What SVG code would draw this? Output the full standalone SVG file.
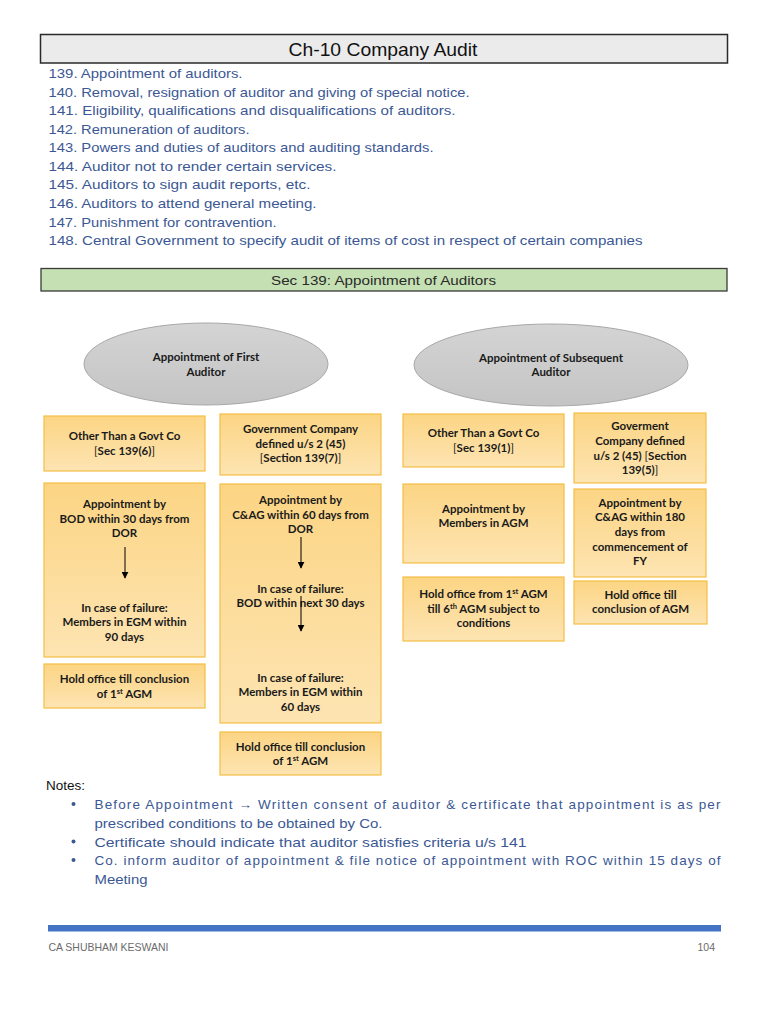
<svg xmlns="http://www.w3.org/2000/svg" width="768" height="1024" viewBox="0 0 768 1024">
<defs>
<linearGradient id="gold" x1="0" y1="0" x2="0" y2="1">
<stop offset="0" stop-color="#fcd584"/>
<stop offset="1" stop-color="#fde4b2"/>
</linearGradient>
<linearGradient id="grey" x1="0" y1="0" x2="0" y2="1">
<stop offset="0" stop-color="#d4d4d4"/>
<stop offset="1" stop-color="#c4c4c4"/>
</linearGradient>
<marker id="arr" viewBox="0 0 10 10" refX="9" refY="5" markerWidth="7" markerHeight="7" orient="auto" markerUnits="userSpaceOnUse">
<path d="M0,0 L10,5 L0,10 z" fill="#000"/>
</marker>
</defs>
<style>
.list{font-family:"Liberation Sans",Arial,sans-serif;font-size:13px;fill:#3b5894}
.box{fill:url(#gold);stroke:#f4bf45;stroke-width:1.2}
.bt{font-family:Lato,"Liberation Sans",sans-serif;font-weight:bold;font-size:11.5px;fill:#1a1a1a;text-anchor:middle}
.el{fill:url(#grey);stroke:#a8a8a8;stroke-width:1}
.note{font-family:"Liberation Sans",Arial,sans-serif;font-size:13.5px;fill:#3b5894}
.foot{font-family:"Liberation Sans",Arial,sans-serif;font-size:10.5px;fill:#6b6b6b}
.conn{stroke:#000;stroke-width:1;fill:none}
</style>
<rect width="768" height="1024" fill="#fff"/>
<g id="header">
<rect x="40.5" y="34.5" width="687" height="28.5" fill="#ebebeb" stroke="#2a2a2a" stroke-width="1.5"/>
<text x="383" y="56" text-anchor="middle" font-family="'Liberation Sans',Arial,sans-serif" font-size="19" fill="#111" textLength="189" lengthAdjust="spacingAndGlyphs">Ch-10 Company Audit</text>
</g>
<g id="section-list">
<text class="list" x="48.5" y="78" textLength="194" lengthAdjust="spacingAndGlyphs">139. Appointment of auditors.</text>
<text class="list" x="48.5" y="96.5" textLength="421" lengthAdjust="spacingAndGlyphs">140. Removal, resignation of auditor and giving of special notice.</text>
<text class="list" x="48.5" y="115" textLength="407" lengthAdjust="spacingAndGlyphs">141. Eligibility, qualifications and disqualifications of auditors.</text>
<text class="list" x="48.5" y="134" textLength="201" lengthAdjust="spacingAndGlyphs">142. Remuneration of auditors.</text>
<text class="list" x="48.5" y="152" textLength="385" lengthAdjust="spacingAndGlyphs">143. Powers and duties of auditors and auditing standards.</text>
<text class="list" x="48.5" y="171" textLength="288" lengthAdjust="spacingAndGlyphs">144. Auditor not to render certain services.</text>
<text class="list" x="48.5" y="189" textLength="262" lengthAdjust="spacingAndGlyphs">145. Auditors to sign audit reports, etc.</text>
<text class="list" x="48.5" y="208" textLength="268" lengthAdjust="spacingAndGlyphs">146. Auditors to attend general meeting.</text>
<text class="list" x="48.5" y="227" textLength="228" lengthAdjust="spacingAndGlyphs">147. Punishment for contravention.</text>
<text class="list" x="48.5" y="245" textLength="594" lengthAdjust="spacingAndGlyphs">148. Central Government to specify audit of items of cost in respect of certain companies</text>
</g>
<g id="sec139-bar">
<rect x="41" y="268.5" width="686" height="22.5" fill="#c5e0b3" stroke="#3a3a3a" stroke-width="1.3"/>
<text x="383.5" y="284.5" text-anchor="middle" font-family="'Liberation Sans',Arial,sans-serif" font-size="13" fill="#2a2a2a" textLength="225" lengthAdjust="spacingAndGlyphs">Sec 139: Appointment of Auditors</text>
</g>
<g id="first-auditor">
<ellipse class="el" cx="206" cy="364" rx="122" ry="41"/>
<text class="bt" x="206" y="361">Appointment of First</text>
<text class="bt" x="206" y="376">Auditor</text>
</g>
<g id="subsequent-auditor">
<ellipse class="el" cx="551" cy="365" rx="137" ry="41"/>
<text class="bt" x="551" y="362">Appointment of Subsequent</text>
<text class="bt" x="551" y="376">Auditor</text>
</g>
<g id="first-other">
<rect class="box" x="44" y="416" width="161" height="55"/>
<text class="bt" x="124.5" y="440">Other Than a Govt Co</text>
<text class="bt" x="124.5" y="455"><tspan font-weight="normal">[</tspan>Sec 139(6)<tspan font-weight="normal">]</tspan></text>
</g>
<g id="first-govt">
<rect class="box" x="220" y="414" width="161" height="61"/>
<text class="bt" x="300.5" y="433">Government Company</text>
<text class="bt" x="300.5" y="448">defined u/s 2 (45)</text>
<text class="bt" x="300.5" y="462"><tspan font-weight="normal">[</tspan>Section 139(7)<tspan font-weight="normal">]</tspan></text>
</g>
<g id="sub-other">
<rect class="box" x="403" y="414" width="161" height="53"/>
<text class="bt" x="483.5" y="437">Other Than a Govt Co</text>
<text class="bt" x="483.5" y="452"><tspan font-weight="normal">[</tspan>Sec 139(1)<tspan font-weight="normal">]</tspan></text>
</g>
<g id="sub-govt">
<rect class="box" x="574" y="413" width="132" height="70"/>
<text class="bt" x="640" y="430">Goverment</text>
<text class="bt" x="640" y="445">Company defined</text>
<text class="bt" x="640" y="460">u/s 2 (45) <tspan font-weight="normal">[</tspan>Section</text>
<text class="bt" x="640" y="474">139(5)<tspan font-weight="normal">]</tspan></text>
</g>
<g id="first-other-appt">
<rect class="box" x="44" y="483" width="161" height="174"/>
<text class="bt" x="124.5" y="508">Appointment by</text>
<text class="bt" x="124.5" y="523">BOD within 30 days from</text>
<text class="bt" x="124.5" y="537">DOR</text>
<text class="bt" x="124.5" y="612">In case of failure:</text>
<text class="bt" x="124.5" y="626">Members in EGM within</text>
<text class="bt" x="124.5" y="641">90 days</text>
</g>
<g id="first-other-hold">
<rect class="box" x="44" y="664" width="161" height="44"/>
<text class="bt" x="124.5" y="683">Hold office till conclusion</text>
<text class="bt" x="124.5" y="698">of 1<tspan font-size="7.5" dy="-4">st</tspan><tspan dy="4"> AGM</tspan></text>
</g>
<g id="first-govt-appt">
<rect class="box" x="220" y="484" width="161" height="239"/>
<text class="bt" x="300.5" y="504">Appointment by</text>
<text class="bt" x="300.5" y="519">C&amp;AG within 60 days from</text>
<text class="bt" x="300.5" y="533">DOR</text>
<text class="bt" x="300.5" y="593">In case of failure:</text>
<text class="bt" x="300.5" y="607">BOD within next 30 days</text>
<text class="bt" x="300.5" y="682">In case of failure:</text>
<text class="bt" x="300.5" y="696">Members in EGM within</text>
<text class="bt" x="300.5" y="711">60 days</text>
</g>
<g id="first-govt-hold">
<rect class="box" x="220" y="732" width="161" height="43"/>
<text class="bt" x="300.5" y="751">Hold office till conclusion</text>
<text class="bt" x="300.5" y="765">of 1<tspan font-size="7.5" dy="-4">st</tspan><tspan dy="4"> AGM</tspan></text>
</g>
<g id="sub-other-appt">
<rect class="box" x="403" y="484" width="161" height="79"/>
<text class="bt" x="483.5" y="513">Appointment by</text>
<text class="bt" x="483.5" y="527">Members in AGM</text>
</g>
<g id="sub-govt-appt">
<rect class="box" x="574" y="489" width="132" height="88"/>
<text class="bt" x="640" y="507">Appointment by</text>
<text class="bt" x="640" y="521">C&amp;AG within 180</text>
<text class="bt" x="640" y="536">days from</text>
<text class="bt" x="640" y="551">commencement of</text>
<text class="bt" x="640" y="565">FY</text>
</g>
<g id="sub-other-hold">
<rect class="box" x="403" y="577" width="161" height="64"/>
<text class="bt" x="483.5" y="598">Hold office from 1<tspan font-size="7.5" dy="-4">st</tspan><tspan dy="4"> AGM</tspan></text>
<text class="bt" x="483.5" y="613">till 6<tspan font-size="7.5" dy="-4">th</tspan><tspan dy="4"> AGM subject to</tspan></text>
<text class="bt" x="483.5" y="627">conditions</text>
</g>
<g id="sub-govt-hold">
<rect class="box" x="574" y="581" width="133" height="43"/>
<text class="bt" x="640.5" y="599">Hold office till</text>
<text class="bt" x="640.5" y="613">conclusion of AGM</text>
</g>
<g id="connectors">
<line class="conn" x1="125" y1="547" x2="125" y2="578" marker-end="url(#arr)"/>
<line class="conn" x1="301" y1="537" x2="301" y2="568" marker-end="url(#arr)"/>
<line class="conn" x1="301" y1="596" x2="301" y2="631" marker-end="url(#arr)"/>
</g>
<g id="notes">
<text x="46" y="790" font-family="'Liberation Sans',Arial,sans-serif" font-size="13.5" fill="#111">Notes:</text>
<circle cx="73.5" cy="804" r="2" fill="#3b5894"/>
<circle cx="73.5" cy="841.5" r="2" fill="#3b5894"/>
<circle cx="73.5" cy="860" r="2" fill="#3b5894"/>
<text class="note" x="94.5" y="809" textLength="626" lengthAdjust="spacing">Before Appointment → Written consent of auditor &amp; certificate that appointment is as per</text>
<text class="note" x="94.5" y="828" textLength="288" lengthAdjust="spacingAndGlyphs">prescribed conditions to be obtained by Co.</text>
<text class="note" x="94.5" y="846.5" textLength="432" lengthAdjust="spacingAndGlyphs">Certificate should indicate that auditor satisfies criteria u/s 141</text>
<text class="note" x="94.5" y="865" textLength="626" lengthAdjust="spacing">Co. inform auditor of appointment &amp; file notice of appointment with ROC within 15 days of</text>
<text class="note" x="94.5" y="884" textLength="53" lengthAdjust="spacingAndGlyphs">Meeting</text>
</g>
<g id="footer">
<rect x="48" y="925" width="673" height="6.5" fill="#4472c4"/>
<text class="foot" x="48.5" y="951" textLength="120" lengthAdjust="spacingAndGlyphs">CA SHUBHAM KESWANI</text>
<text class="foot" x="715" y="951" text-anchor="end">104</text>
</g>
</svg>
